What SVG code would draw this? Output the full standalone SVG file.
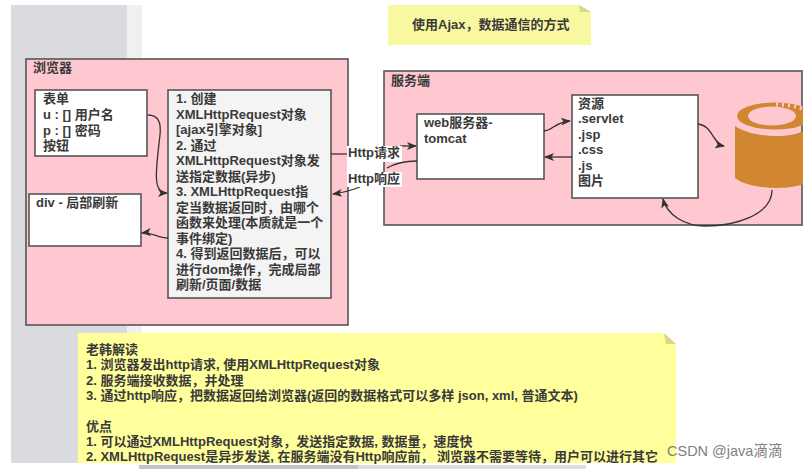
<svg xmlns="http://www.w3.org/2000/svg" width="803" height="469" viewBox="0 0 803 469">
<defs>
<marker id="ah" markerWidth="10" markerHeight="8" refX="9" refY="4" orient="auto" markerUnits="userSpaceOnUse"><path d="M0 0L10 4L0 8L2.5 4Z" fill="#333"/></marker>
</defs>
<style>
text{font-family:"Liberation Sans","Noto Sans CJK SC",sans-serif;fill:#3a3a3a;font-weight:700;font-size:13px}
.box{stroke:#555;stroke-width:1.6}
.c{fill:none;stroke:#333;stroke-width:1.3;marker-end:url(#ah)}
.l{fill:none;stroke:#333;stroke-width:1.3}
</style>
<rect width="803" height="469" fill="#fff"/>
<rect x="11" y="5" width="116" height="458" fill="#d9dbde"/>
<rect x="127" y="5" width="15" height="458" fill="#f0f0f1"/>
<rect x="139" y="465" width="219" height="4" fill="#c4c4c4"/>
<rect x="358" y="465" width="228" height="4" fill="#dedede"/>
<g id="note-top"><path d="M388 5H579L591 12V45H388Z" fill="#f8f8a0"/><path d="M579 5L591 12H580Z" fill="#d8d88a"/><text x="412" y="29">使用Ajax，数据通信的方式</text></g>
<g id="browser"><rect class="box" x="26" y="59" width="322" height="266" fill="#ffc8d0"/><text x="33" y="72">浏览器</text></g>
<g id="form"><rect class="box" x="35" y="90" width="112" height="66" fill="#fff"/><text x="43" y="103">表单</text><text x="43" y="119">u : [] 用户名</text><text x="43" y="135">p : [] 密码</text><text x="43" y="150">按钮</text></g>
<g id="div"><rect class="box" x="29" y="194" width="112" height="52" fill="#fff"/><text x="36" y="207">div - 局部刷新</text></g>
<g id="xhr"><rect class="box" x="168" y="90" width="163" height="208" fill="#f4f4f4"/>
<text x="176" y="103">1. 创建</text><text x="176" y="119">XMLHttpRequest对象</text><text x="176" y="134">[ajax引擎对象]</text><text x="176" y="150">2. 通过</text><text x="176" y="165">XMLHttpRequest对象发</text><text x="176" y="181">送指定数据(异步)</text><text x="176" y="196">3. XMLHttpRequest指</text><text x="176" y="212">定当数据返回时，由哪个</text><text x="176" y="227">函数来处理(本质就是一个</text><text x="176" y="243">事件绑定)</text><text x="176" y="258">4. 得到返回数据后，可以</text><text x="176" y="274">进行dom操作，完成局部</text><text x="176" y="289">刷新/页面/数据</text></g>
<g id="server"><rect class="box" x="384" y="71" width="418" height="154" fill="#ffc8d0"/><text x="391" y="85">服务端</text></g>
<g id="tomcat"><rect class="box" x="417" y="114" width="127" height="65" fill="#fff"/><text x="424" y="127">web服务器-</text><text x="424" y="143">tomcat</text></g>
<g id="res"><rect class="box" x="572" y="95" width="126" height="103" fill="#fff"/><text x="578" y="108">资源</text><text x="578" y="123">.servlet</text><text x="578" y="139">.jsp</text><text x="578" y="154">.css</text><text x="578" y="170">.js</text><text x="578" y="185">图片</text></g>
<g id="db">
<path d="M735 126C745 133 762 136 776 136C788 136 798 134 803 131V184C790 190 750 190 735 178Z" fill="#d18630"/>
<ellipse cx="775" cy="116" rx="38" ry="13.5" fill="#d18630"/>
<ellipse cx="772" cy="116" rx="24" ry="9.5" fill="#ffc8d0"/>
<path d="M776 104.5C785 104.5 795 106 803 109" fill="none" stroke="#ffc8d0" stroke-width="4" stroke-dasharray="2 4"/>
</g>
<g id="connectors">
<path class="c" d="M148 115C160 115 161 125 160 135C156 170 152 193 167 193"/>
<path class="c" d="M168 238C158 238 152 232 142 233"/>
<path class="l" d="M331 154H350"/>
<path class="c" d="M400 146H416"/>
<path class="l" d="M417 161C405 161 394 164 387 168"/>
<path class="c" d="M360 187C352 190 342 193 333 194"/>
<path class="c" d="M544 131C552 131 555 122 570 121"/>
<path class="c" d="M572 157H545"/>
<path class="c" d="M698 124C712 125 713 144 724 146"/>
<path class="c" d="M772 190C772 215 735 226 705 226C685 226 667 215 663 199"/>
</g>
<g id="lbl-req"><rect x="347" y="146" width="55" height="16" fill="#fff"/><rect x="347" y="162" width="2" height="10" fill="#fff"/><text x="348" y="157">Http请求</text></g>
<g id="lbl-res"><rect x="347" y="172" width="55" height="15" fill="#fff"/><text x="348" y="183">Http响应</text></g>
<g id="note-bottom"><path d="M78 333H664L676 344V463H78Z" fill="#ffff9c"/><path d="M664 333L676 344H666Z" fill="#d8d88a"/>
<text x="86" y="354">老韩解读</text><text x="86" y="369">1. 浏览器发出http请求, 使用XMLHttpRequest对象</text><text x="86" y="385">2. 服务端接收数据，并处理</text><text x="86" y="400">3. 通过http响应，把数据返回给浏览器(返回的数据格式可以多样 json, xml, 普通文本)</text><text x="86" y="431">优点</text><text x="86" y="446">1. 可以通过XMLHttpRequest对象，发送指定数据, 数据量，速度快</text><text x="86" y="461">2. XMLHttpRequest是异步发送, 在服务端没有Http响应前， 浏览器不需要等待，用户可以进行其它</text></g>
<text x="667" y="456" style="font-weight:400;fill:#808080;font-size:14.5px">CSDN @java滴滴</text>
</svg>
